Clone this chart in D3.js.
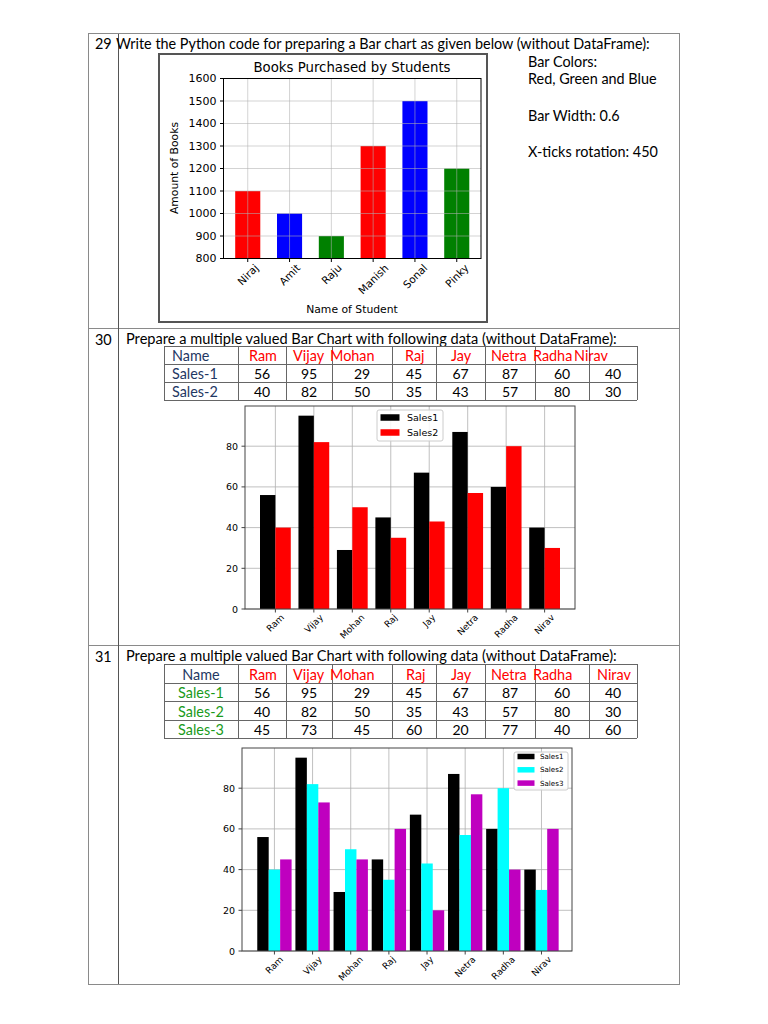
<!DOCTYPE html>
<meta charset="utf-8">
<head>
<script src="https://d3js.org/d3.v7.min.js"></script>
<style>body{margin:0;background:#fff}</style>
</head>
<body>
<div id="page"></div>
<script>
// Q29 data
var students = ["Niraj", "Amit", "Raju", "Manish", "Sonal", "Pinky"];
var books = [1100, 1000, 900, 1300, 1500, 1200];
var bookColors = ["red", "blue", "green", "red", "blue", "green"];
var bookTicks = [800, 900, 1000, 1100, 1200, 1300, 1400, 1500, 1600];
var notes = ["Bar Colors:", "Red, Green and Blue", "Bar Width: 0.6", "X-ticks rotation: 450"];

// Q30 / Q31 data
var names = ["Ram", "Vijay", "Mohan", "Raj", "Jay", "Netra", "Radha", "Nirav"];
var sales1 = [56, 95, 29, 45, 67, 87, 60, 40];
var sales2 = [40, 82, 50, 35, 43, 57, 80, 30];
var sales3 = [45, 73, 45, 60, 20, 77, 40, 60];
var salesTicks = [0, 20, 40, 60, 80];

var docFont = "Lato, 'Open Sans', sans-serif";
var mplFont = "DejaVu Sans, Noto Sans, Liberation Sans";

var svg = d3.select("#page").append("svg")
    .attr("width", 768).attr("height", 1024)
    .style("background", "#fff");

// page frame
var frame = svg.append("g").attr("fill", "none");
frame.append("rect").attr("x", 88.5).attr("y", 33.5).attr("width", 591).attr("height", 951)
    .attr("stroke", "#8a8a8a");
frame.append("line").attr("x1", 88).attr("x2", 680).attr("y1", 328.5).attr("y2", 328.5).attr("stroke", "#8a8a8a");
frame.append("line").attr("x1", 88).attr("x2", 680).attr("y1", 645.5).attr("y2", 645.5).attr("stroke", "#8a8a8a");
frame.append("line").attr("x1", 118.5).attr("x2", 118.5).attr("y1", 34).attr("y2", 984).attr("stroke", "#555");

function docText(x, y, s, opts) {
    opts = opts || {};
    return svg.append("text").attr("x", x).attr("y", y)
        .attr("dominant-baseline", "central")
        .attr("text-anchor", opts.anchor || "start")
        .style("font-family", docFont)
        .style("font-size", (opts.size || 14.4) + "px")
        .attr("fill", opts.color || "#000")
        .text(s);
}

// matplotlib-style text
function mText(g, x, y, s, fs, anchor) {
    return g.append("text").attr("x", x).attr("y", y).text(s)
        .attr("text-anchor", anchor || "middle").attr("dominant-baseline", "central")
        .attr("font-family", mplFont).attr("font-size", fs).attr("fill", "#000");
}

docText(95, 43, "29");
docText(116, 43, "Write the Python code for preparing a Bar chart as given below (without DataFrame):");
notes.forEach(function (n, i) {
    docText(528, [61, 78, 115, 151][i], n);
});
docText(95, 339, "30");
docText(126, 338, "Prepare a multiple valued Bar Chart with following data (without DataFrame):", { size: 14.6 });
docText(95, 656, "31");
docText(126, 655, "Prepare a multiple valued Bar Chart with following data (without DataFrame):", { size: 14.6 });

// rotated tick label, centred under tick like matplotlib rotation=45
function rotLabel(g, s, x, yTop, fs) {
    var t = mText(g, 0, 0, s, fs);
    var L = t.node().getComputedTextLength();
    var h = (L + fs * 0.9) * 0.7071;
    t.attr("transform", "translate(" + x + "," + (yTop + h / 2) + ") rotate(-45)");
}

// ---------- Q29 chart ----------
(function () {
    var g = svg.append("g");
    g.append("rect").attr("x", 159).attr("y", 54).attr("width", 328).attr("height", 268)
        .attr("fill", "#fff").attr("stroke", "#555").attr("stroke-width", 2);
    var L = 223.5, R = 481, T = 78.5, B = 258.5;
    var x = d3.scaleLinear().domain([-0.58, 5.58]).range([L, R]);
    var y = d3.scaleLinear().domain([800, 1600]).range([B, T]);

    g.selectAll(".bar").data(books).enter().append("rect")
        .attr("x", function (d, i) { return x(i - 0.3); })
        .attr("width", function (d, i) { return x(i + 0.3) - x(i - 0.3); })
        .attr("y", function (d) { return y(d); })
        .attr("height", function (d) { return B - y(d); })
        .attr("fill", function (d, i) { return bookColors[i]; });

    var grid = g.append("g").attr("stroke", "#b0b0b0").attr("stroke-opacity", 0.7).attr("stroke-width", 0.8);
    bookTicks.forEach(function (t) {
        grid.append("line").attr("x1", L).attr("x2", R).attr("y1", y(t)).attr("y2", y(t));
    });
    students.forEach(function (s, i) {
        grid.append("line").attr("x1", x(i)).attr("x2", x(i)).attr("y1", T).attr("y2", B);
    });

    g.append("rect").attr("x", L).attr("y", T).attr("width", R - L).attr("height", B - T)
        .attr("fill", "none").attr("stroke", "#000").attr("stroke-width", 1);

    bookTicks.forEach(function (t) {
        g.append("line").attr("x1", L - 3.5).attr("x2", L).attr("y1", y(t)).attr("y2", y(t)).attr("stroke", "#000");
        mText(g, L - 7, y(t), t, 11, "end");
    });
    students.forEach(function (s, i) {
        g.append("line").attr("x1", x(i)).attr("x2", x(i)).attr("y1", B).attr("y2", B + 3.5).attr("stroke", "#000");
        rotLabel(g, s, x(i), B + 4, 10.5);
    });

    mText(g, 352, 67, "Books Purchased by Students", 13.3);
    mText(g, 0, 0, "Amount of Books", 10.8).attr("transform", "translate(174,168) rotate(-90)");
    mText(g, 352, 309, "Name of Student", 10.8);
})();

// ---------- tables ----------
var cols = [164, 238, 286, 332, 392, 436, 485, 535, 589, 637];

function drawTable(rowLines, rowLabels, rowData, nameX, labelColor, labelCentered) {
    var g = svg.append("g");
    var lines = g.append("g").attr("stroke", "#666").attr("stroke-width", 1);
    rowLines.forEach(function (yy) {
        lines.append("line").attr("x1", cols[0]).attr("x2", cols[cols.length - 1])
            .attr("y1", yy + 0.5).attr("y2", yy + 0.5);
    });
    cols.forEach(function (xx) {
        lines.append("line").attr("x1", xx + 0.5).attr("x2", xx + 0.5)
            .attr("y1", rowLines[0]).attr("y2", rowLines[rowLines.length - 1]);
    });
    var mid = function (r) { return (rowLines[r] + rowLines[r + 1]) / 2 + 0.5; };
    var lx = labelCentered ? (cols[0] + cols[1]) / 2 : cols[0] + 8;
    var anchor = labelCentered ? "middle" : "start";
    docText(lx, mid(0), "Name", { color: "#1f3864", anchor: anchor, size: 14.4 });
    names.forEach(function (n, i) {
        docText(nameX[i], mid(0), n, { color: "#ff0000", size: 14.4 });
    });
    rowLabels.forEach(function (lab, r) {
        docText(lx, mid(r + 1), lab, { color: labelColor, anchor: anchor, size: 14.4 });
        rowData[r].forEach(function (v, i) {
            docText((cols[i + 1] + cols[i + 2]) / 2, mid(r + 1), v, { anchor: "middle", size: 14 });
        });
    });
}

drawTable([346, 364, 382, 400], ["Sales-1", "Sales-2"], [sales1, sales2],
    [249, 293, 330, 405, 451, 491, 533, 574], "#1f3864", false);
drawTable([664, 683, 701, 720, 738], ["Sales-1", "Sales-2", "Sales-3"], [sales1, sales2, sales3],
    [249, 293, 330, 406, 451, 491, 533, 597], "#1a9a1a", true);

// ---------- grouped bar charts ----------
function groupedChart(box, xDom, series, colors, offsets, bw, legend) {
    var g = svg.append("g");
    var L = box[0], R = box[1], T = box[2], B = box[3];
    var x = d3.scaleLinear().domain(xDom).range([L, R]);
    var y = d3.scaleLinear().domain([0, 95 * 1.05]).range([B, T]);

    var grid = g.append("g").attr("stroke", "#b0b0b0").attr("stroke-width", 0.8);
    salesTicks.forEach(function (t) {
        grid.append("line").attr("x1", L).attr("x2", R).attr("y1", y(t)).attr("y2", y(t));
    });
    names.forEach(function (n, i) {
        grid.append("line").attr("x1", x(i)).attr("x2", x(i)).attr("y1", T).attr("y2", B);
    });

    series.forEach(function (vals, s) {
        g.selectAll(".s" + s).data(vals).enter().append("rect")
            .attr("x", function (d, i) { return x(i + offsets[s] - bw / 2); })
            .attr("width", function (d, i) { return x(i + offsets[s] + bw / 2) - x(i + offsets[s] - bw / 2); })
            .attr("y", function (d) { return y(d); })
            .attr("height", function (d) { return B - y(d); })
            .attr("fill", colors[s]);
    });

    g.append("rect").attr("x", L).attr("y", T).attr("width", R - L).attr("height", B - T)
        .attr("fill", "none").attr("stroke", "#444").attr("stroke-width", 1);

    salesTicks.forEach(function (t) {
        g.append("line").attr("x1", L - 3.5).attr("x2", L).attr("y1", y(t)).attr("y2", y(t)).attr("stroke", "#444");
        mText(g, L - 7, y(t), t, 9.5, "end");
    });
    names.forEach(function (n, i) {
        g.append("line").attr("x1", x(i)).attr("x2", x(i)).attr("y1", B).attr("y2", B + 3.5).attr("stroke", "#444");
        rotLabel(g, n, x(i), B + 4, 9);
    });

    // legend
    var lg = g.append("g");
    lg.append("rect").attr("x", legend.x).attr("y", legend.y).attr("width", legend.w).attr("height", legend.h)
        .attr("rx", 2).attr("fill", "#fff").attr("fill-opacity", 0.85).attr("stroke", "#ccc");
    legend.labels.forEach(function (lab, s) {
        var cy = legend.y + legend.first + s * legend.step;
        lg.append("rect").attr("x", legend.x + 3.5).attr("y", cy - legend.ph / 2)
            .attr("width", legend.pw).attr("height", legend.ph).attr("fill", colors[s]);
        mText(lg, legend.x + legend.tx, cy, lab, legend.fs, "start");
    });
}

groupedChart([245, 575, 406, 609], [-0.79, 7.79], [sales1, sales2], ["#000", "#ff0000"],
    [-0.2, 0.2], 0.4,
    { x: 377, y: 410, w: 66, h: 31, first: 7.5, step: 15, pw: 19, ph: 6.5, tx: 30, fs: 9.5,
      labels: ["Sales1", "Sales2"] });

groupedChart([242, 572, 748, 951], [-0.85, 7.8], [sales1, sales2, sales3], ["#000", "#00ffff", "#bf00bf"],
    [-0.3, 0, 0.3], 0.3,
    { x: 514, y: 752, w: 54, h: 38, first: 4.5, step: 13.3, pw: 17, ph: 5.5, tx: 26, fs: 7.1,
      labels: ["Sales1", "Sales2", "Sales3"] });
</script>
</body>
